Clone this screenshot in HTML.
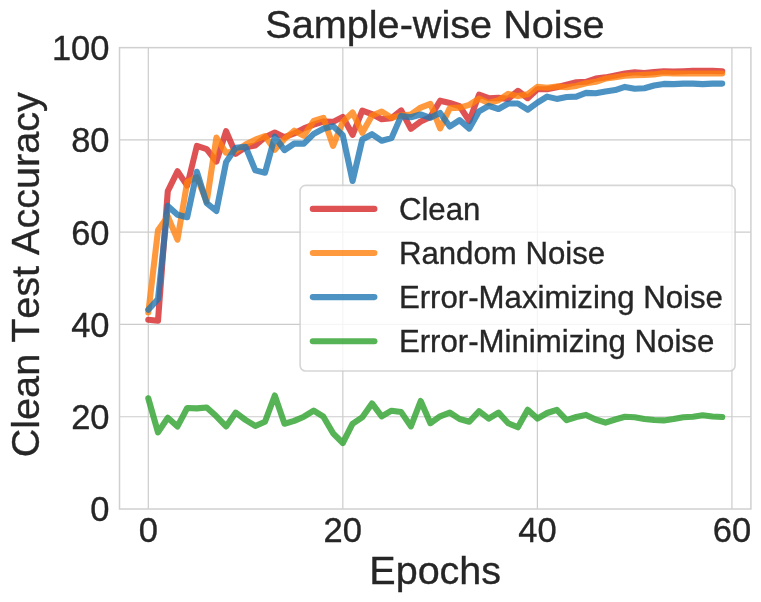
<!DOCTYPE html>
<html><head><meta charset="utf-8"><title>Sample-wise Noise</title>
<style>
html,body{margin:0;padding:0;background:#fff;}
svg{display:block}
text{font-family:"Liberation Sans",Arial,Helvetica,sans-serif;fill:#262626;stroke:#262626;stroke-width:0.35px}
</style></head><body>
<svg width="761" height="602" viewBox="0 0 761 602">
<rect width="761" height="602" fill="#fff"/>
<g stroke="#cccccc" stroke-width="1.2" fill="none"><line x1="148.30" y1="47.65" x2="148.30" y2="509.0"/><line x1="342.84" y1="47.65" x2="342.84" y2="509.0"/><line x1="537.38" y1="47.65" x2="537.38" y2="509.0"/><line x1="731.92" y1="47.65" x2="731.92" y2="509.0"/><line x1="119.5" y1="416.73" x2="750.9" y2="416.73"/><line x1="119.5" y1="324.46" x2="750.9" y2="324.46"/><line x1="119.5" y1="232.19" x2="750.9" y2="232.19"/><line x1="119.5" y1="139.92" x2="750.9" y2="139.92"/></g>
<g fill="none" stroke-width="6.1" stroke-linejoin="round" stroke-linecap="round" stroke-opacity="0.8">
<polyline stroke="#d62728" points="148.3,319.8 158.0,320.8 167.8,191.1 177.5,171.3 187.2,185.6 196.9,145.9 206.7,149.1 216.4,161.6 226.1,131.2 235.8,153.8 245.6,147.3 255.3,145.5 265.0,137.2 274.8,132.5 284.5,137.2 294.2,133.5 303.9,128.4 313.7,124.7 323.4,121.5 333.1,121.9 342.8,116.9 352.6,134.8 362.3,110.6 372.0,114.1 381.7,119.2 391.5,118.2 401.2,110.4 410.9,128.8 420.7,121.5 430.4,116.9 440.1,100.7 449.8,103.0 459.6,106.2 469.3,121.0 479.0,94.7 488.7,98.2 498.5,97.9 508.2,98.9 517.9,90.8 527.7,98.2 537.4,89.2 547.1,89.2 556.8,87.3 566.6,84.6 576.3,82.3 586.0,81.8 595.7,78.6 605.5,77.4 615.2,75.5 624.9,73.5 634.7,72.3 644.4,73.0 654.1,72.1 663.8,71.2 673.6,71.6 683.3,71.2 693.0,70.7 702.7,70.9 712.5,70.9 722.2,71.2"/>
<polyline stroke="#ff7f0e" points="148.3,312.5 158.0,230.3 167.8,216.5 177.5,239.6 187.2,181.9 196.9,177.3 206.7,201.7 216.4,137.6 226.1,152.8 235.8,151.0 245.6,144.5 255.3,139.7 265.0,136.2 274.8,149.8 284.5,139.0 294.2,130.7 303.9,135.8 313.7,121.0 323.4,117.8 333.1,145.9 342.8,121.9 352.6,112.5 362.3,132.8 372.0,115.5 381.7,111.5 391.5,117.8 401.2,115.5 410.9,114.5 420.7,107.6 430.4,103.9 440.1,128.4 449.8,108.1 459.6,107.6 469.3,104.9 479.0,98.6 488.7,103.0 498.5,100.2 508.2,93.9 517.9,96.1 527.7,94.2 537.4,86.9 547.1,87.8 556.8,86.4 566.6,87.3 576.3,85.9 586.0,83.2 595.7,81.8 605.5,78.6 615.2,77.2 624.9,75.8 634.7,75.3 644.4,74.9 654.1,74.4 663.8,73.0 673.6,73.5 683.3,73.5 693.0,73.5 702.7,73.5 712.5,73.5 722.2,73.5"/>
<polyline stroke="#1f77b4" points="148.3,309.7 158.0,299.1 167.8,205.9 177.5,214.7 187.2,217.2 196.9,171.8 206.7,203.1 216.4,211.0 226.1,162.1 235.8,147.8 245.6,146.8 255.3,170.4 265.0,172.7 274.8,136.7 284.5,150.1 294.2,143.6 303.9,143.6 313.7,133.9 323.4,128.8 333.1,126.1 342.8,135.3 352.6,181.0 362.3,139.5 372.0,134.2 381.7,140.8 391.5,138.1 401.2,115.9 410.9,117.3 420.7,114.5 430.4,117.8 440.1,112.9 449.8,126.5 459.6,120.1 469.3,128.6 479.0,111.3 488.7,105.8 498.5,109.0 508.2,103.5 517.9,103.5 527.7,109.7 537.4,102.6 547.1,96.6 556.8,98.9 566.6,97.0 576.3,96.6 586.0,92.9 595.7,93.3 605.5,91.5 615.2,90.1 624.9,86.9 634.7,88.7 644.4,88.2 654.1,85.5 663.8,83.9 673.6,84.1 683.3,83.6 693.0,83.6 702.7,84.1 712.5,83.6 722.2,83.6"/>
<polyline stroke="#2ca02c" points="148.3,398.3 158.0,432.4 167.8,417.7 177.5,426.4 187.2,408.0 196.9,408.4 206.7,407.5 216.4,416.3 226.1,426.4 235.8,412.6 245.6,420.0 255.3,426.0 265.0,421.8 274.8,395.5 284.5,423.7 294.2,420.9 303.9,416.7 313.7,410.7 323.4,416.7 333.1,433.3 342.8,443.0 352.6,423.7 362.3,417.2 372.0,403.4 381.7,416.3 391.5,410.7 401.2,412.1 410.9,426.4 420.7,401.0 430.4,423.2 440.1,416.3 449.8,412.6 459.6,419.0 469.3,421.8 479.0,411.2 488.7,418.6 498.5,412.6 508.2,423.2 517.9,427.3 527.7,409.8 537.4,418.6 547.1,413.0 556.8,409.8 566.6,420.2 576.3,417.0 586.0,414.9 595.7,419.5 605.5,422.7 615.2,419.5 624.9,416.7 634.7,417.2 644.4,419.0 654.1,420.0 663.8,420.4 673.6,419.0 683.3,417.2 693.0,416.7 702.7,415.3 712.5,416.5 722.2,417.0"/>
</g>
<rect x="119.5" y="47.65" width="631.40" height="461.35" fill="none" stroke="#d0d0d0" stroke-width="1.5"/>
<text x="148.3" y="542.2" font-size="34.5" text-anchor="middle">0</text>
<text x="342.8" y="542.2" font-size="34.5" text-anchor="middle">20</text>
<text x="537.4" y="542.2" font-size="34.5" text-anchor="middle">40</text>
<text x="731.9" y="542.2" font-size="34.5" text-anchor="middle">60</text>
<text x="109.5" y="521.3" font-size="34.5" text-anchor="end">0</text>
<text x="109.5" y="429.0" font-size="34.5" text-anchor="end">20</text>
<text x="109.5" y="336.8" font-size="34.5" text-anchor="end">40</text>
<text x="109.5" y="244.5" font-size="34.5" text-anchor="end">60</text>
<text x="109.5" y="152.2" font-size="34.5" text-anchor="end">80</text>
<text x="109.5" y="59.9" font-size="34.5" text-anchor="end">100</text>
<text x="434.9" y="38.4" font-size="39.65" text-anchor="middle">Sample-wise Noise</text>
<text x="435.2" y="583.8" font-size="39.5" text-anchor="middle">Epochs</text>
<text transform="translate(38.5,274.7) rotate(-90)" font-size="39.6" style="font-kerning:none" text-anchor="middle">Clean Test Accuracy</text>
<rect x="300.1" y="185.4" width="435.0" height="185.6" rx="5.5" ry="5.5" fill="#ffffff" fill-opacity="0.8" stroke="#cccccc" stroke-opacity="0.8" stroke-width="1.6"/>
<line x1="312.8" y1="208.9" x2="374.4" y2="208.9" stroke="#d62728" stroke-opacity="0.8" stroke-width="6.1" stroke-linecap="round"/>
<text x="398.9" y="220.1" font-size="31.2">Clean</text>
<line x1="312.8" y1="253.0" x2="374.4" y2="253.0" stroke="#ff7f0e" stroke-opacity="0.8" stroke-width="6.1" stroke-linecap="round"/>
<text x="398.9" y="264.2" font-size="31.2">Random Noise</text>
<line x1="312.8" y1="297.1" x2="374.4" y2="297.1" stroke="#1f77b4" stroke-opacity="0.8" stroke-width="6.1" stroke-linecap="round"/>
<text x="398.9" y="308.3" font-size="31.2">Error-Maximizing Noise</text>
<line x1="312.8" y1="341.2" x2="374.4" y2="341.2" stroke="#2ca02c" stroke-opacity="0.8" stroke-width="6.1" stroke-linecap="round"/>
<text x="398.9" y="352.4" font-size="31.2">Error-Minimizing Noise</text>
</svg></body></html>
